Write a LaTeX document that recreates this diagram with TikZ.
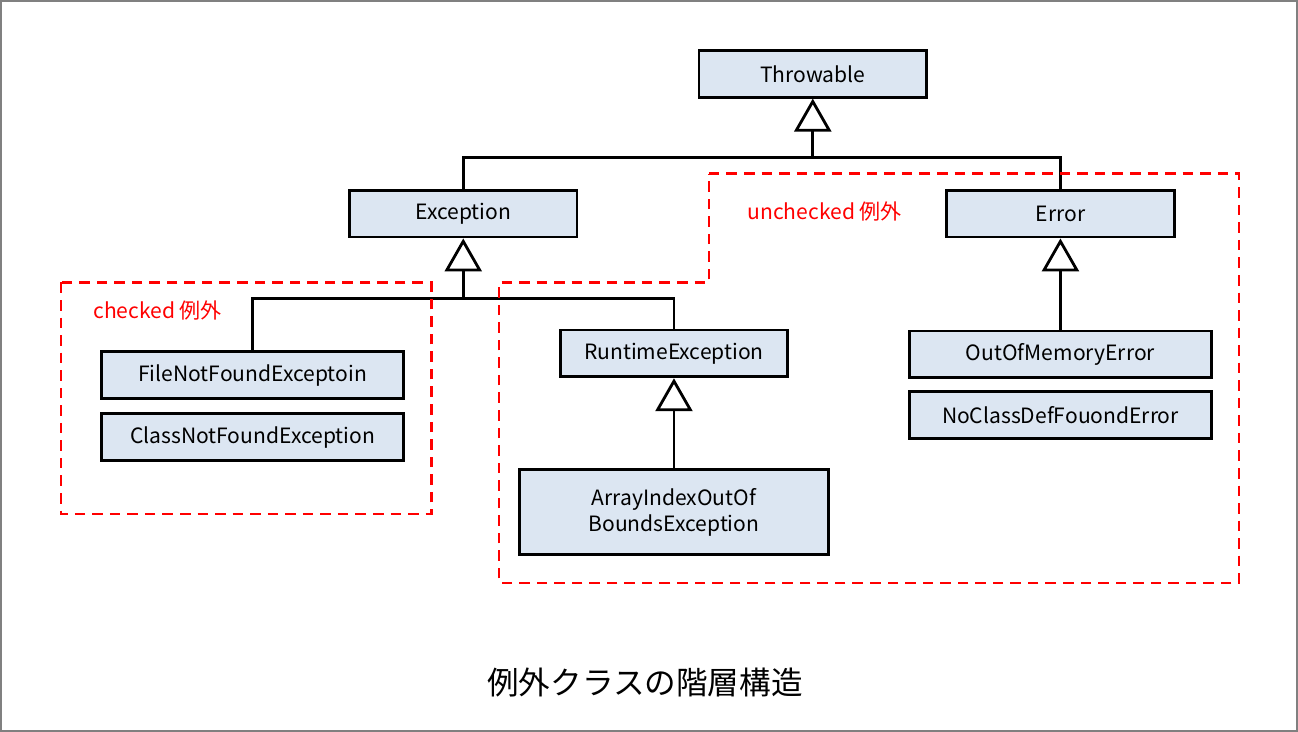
\documentclass[tikz,border=0pt]{standalone}
\usepackage{fontspec}
\setmainfont{Noto Sans CJK JP}
\usetikzlibrary{arrows.meta, positioning}
\definecolor{boxfill}{HTML}{DCE6F2}
\tikzset{
  cls/.style = {draw=black, line width=1.6pt, fill=boxfill, font=\fontsize{12}{15}\selectfont,
      minimum width=#1, minimum height=0.94cm, inner sep=0pt, align=center},
  cls/.default = 4.56cm,
  inherit/.style = {line width=1.6pt, -{Triangle[open, width=0.74cm, length=0.66cm, line width=1.6pt]}},
  link/.style = {line width=1.6pt},
  region/.style = {red, dashed, line width=1.4pt, dash pattern=on 6pt off 4pt},
  rlabel/.style = {red, font=\fontsize{12}{15}\selectfont},
}
\begin{document}
\begin{tikzpicture}[x=0.02cm, y=-0.02cm]
  \draw[gray, line width=1pt, fill=white] (0,0) rectangle (1298,731);

  \node[cls] (thr) at (813,73) {Throwable};
  \node[cls] (exc) at (463,213) {Exception};
  \node[cls] (err) at (1061,213) {Error};
  \node[cls=6.06cm] (fnf) at (252,375) {FileNotFoundExceptoin};
  \node[cls=6.06cm] (cnf) at (252,437) {ClassNotFoundException};
  \node[cls] (rte) at (674,353) {RuntimeException};
  \node[cls=6.18cm, minimum height=1.7cm] (aio) at (674,512) {ArrayIndexOutOf\\BoundsException};
  \node[cls=6.06cm] (oom) at (1061,354) {OutOfMemoryError};
  \node[cls=6.06cm] (ncd) at (1061,415) {NoClassDefFouondError};

  \coordinate (jthr) at (813,157);
  \coordinate (jexc) at (463,298);

  \draw[link] (err.north) |- (jthr);
  \draw[inherit] (exc.north) |- (jthr) -- (thr.south);
  \draw[link] (rte.north) |- (jexc);
  \draw[inherit] (fnf.north) |- (jexc) -- (exc.south);
  \draw[inherit] (aio.north) -- (rte.south);
  \draw[inherit] (oom.north) -- (err.south);

  % checked / unchecked
  \draw[region] (60,282) rectangle (431,514);
  \draw[region] (709,173) -- (1240,173) -- (1240,583) -- (499,583) -- (499,282) -- (709,282) -- cycle;
  \node[rlabel] (chk) at (157,310) {checked 例外};
  \node[rlabel] (unc) at (825,211) {unchecked 例外};

  \node[font=\fontsize{18}{22}\selectfont] (title) at (645,683) {例外クラスの階層構造};
\end{tikzpicture}
\end{document}
